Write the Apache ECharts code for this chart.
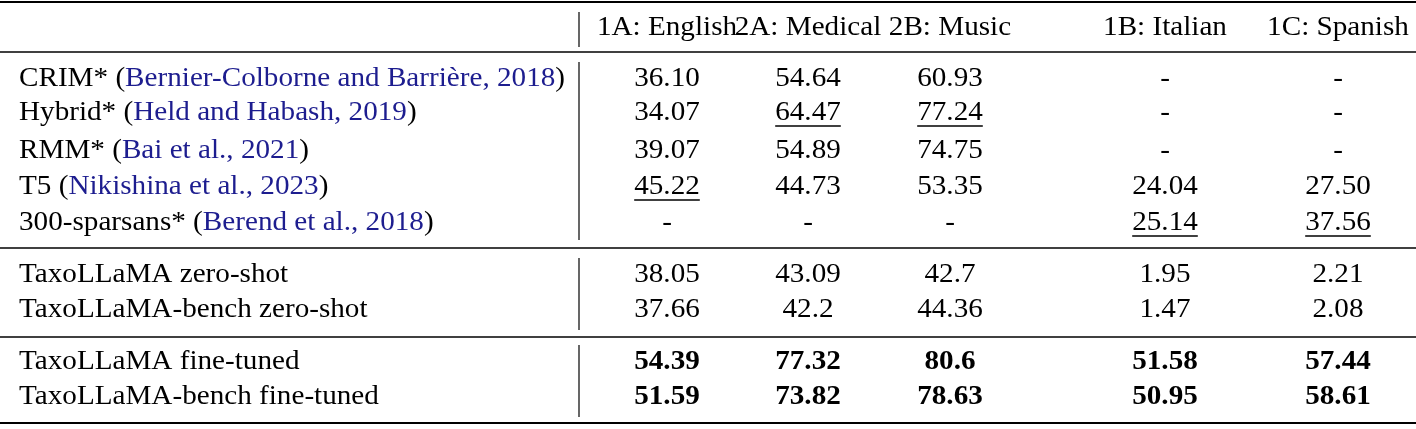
<!DOCTYPE html>
<html><head><meta charset="utf-8">
<script src="https://cdn.jsdelivr.net/npm/echarts@6/dist/echarts.min.js"></script>
<style>html,body{margin:0;background:#fff}#c{width:1416px;height:429px}</style>
</head><body><div id="c"></div>
<script>
var columns = ['1A: English', '2A: Medical', '2B: Music', '1B: Italian', '1C: Spanish'];
var methods = ['CRIM*', 'Hybrid*', 'RMM*', 'T5', '300-sparsans*',
  'TaxoLLaMA zero-shot', 'TaxoLLaMA-bench zero-shot', 'TaxoLLaMA fine-tuned', 'TaxoLLaMA-bench fine-tuned'];
var citations = ['Bernier-Colborne and Barrière, 2018', 'Held and Habash, 2019', 'Bai et al., 2021',
  'Nikishina et al., 2023', 'Berend et al., 2018', '', '', '', ''];
var values = [
  ['36.10', '54.64', '60.93', '-', '-'],
  ['34.07', '64.47', '77.24', '-', '-'],
  ['39.07', '54.89', '74.75', '-', '-'],
  ['45.22', '44.73', '53.35', '24.04', '27.50'],
  ['-', '-', '-', '25.14', '37.56'],
  ['38.05', '43.09', '42.7', '1.95', '2.21'],
  ['37.66', '42.2', '44.36', '1.47', '2.08'],
  ['54.39', '77.32', '80.6', '51.58', '57.44'],
  ['51.59', '73.82', '78.63', '50.95', '58.61']
];
var underlined = [[1, 1], [1, 2], [3, 0], [4, 3], [4, 4]];
var boldRows = [7, 8];

var FONT = '"Liberation Serif", "DejaVu Serif", serif';
var SIZE = 27, SX = 1.08;
var colX = [667, 808, 950, 1165, 1338];
var rowY = [79, 113, 151, 187, 223, 275, 310, 362, 397];
var headerY = 28, leftX = 19, vx = 579;
var ruleY = [2, 52, 248, 337, 423];
var vSeg = [[12, 47], [62, 240], [258, 330], [345, 417]];

var cv = document.createElement('canvas').getContext('2d');
function tw(s, bold) { cv.font = (bold ? 'bold ' : '') + SIZE + 'px ' + FONT; return cv.measureText(s).width * SX; }

var g = [];
function txt(x, y, s, align, bold) {
  g.push({ type: 'text', x: x, y: y, scaleX: SX, style: { text: s, fill: '#000', font: (bold ? 'bold ' : '') + SIZE + 'px ' + FONT, textAlign: align, textVerticalAlign: 'middle' } });
}
ruleY.forEach(function (y, i) {
  g.push({ type: 'line', shape: { x1: 0, y1: y, x2: 1416, y2: y }, style: { stroke: '#000', lineWidth: (i === 0 || i === ruleY.length - 1) ? 2 : 1.3 } });
});
vSeg.forEach(function (s) {
  g.push({ type: 'line', shape: { x1: vx, y1: s[0], x2: vx, y2: s[1] }, style: { stroke: '#000', lineWidth: 1.2 } });
});
columns.forEach(function (c, j) { txt(colX[j], headerY, c, 'center'); });
methods.forEach(function (m, i) {
  var bold = boldRows.indexOf(i) >= 0;
  if (citations[i]) {
    g.push({ type: 'text', x: leftX, y: rowY[i], scaleX: SX, style: {
      text: '{k|' + m + ' (}{c|' + citations[i] + '}{k|)}',
      font: SIZE + 'px ' + FONT, textVerticalAlign: 'middle',
      rich: { k: { fill: '#000', font: SIZE + 'px ' + FONT }, c: { fill: '#1d1d8f', font: SIZE + 'px ' + FONT } }
    } });
  } else {
    txt(leftX, rowY[i], m, 'left', false);
  }
  values[i].forEach(function (v, j) { txt(colX[j], rowY[i], v, 'center', bold); });
});
underlined.forEach(function (u) {
  var w = tw(values[u[0]][u[1]], false), x = colX[u[1]], y = rowY[u[0]] + 13;
  g.push({ type: 'line', shape: { x1: x - w / 2, y1: y, x2: x + w / 2, y2: y }, style: { stroke: '#000', lineWidth: 1.4 } });
});

var chart = echarts.init(document.getElementById('c'));
chart.setOption({ backgroundColor: '#fff', graphic: { elements: g } });
</script></body></html>
